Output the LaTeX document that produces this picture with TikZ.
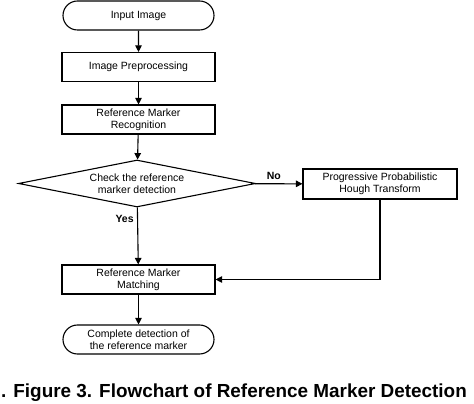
\documentclass[tikz,border=0pt]{standalone}
\usepackage{fontspec}
\setmainfont{Liberation Sans}
\usetikzlibrary{arrows.meta,shapes.geometric,shapes.misc}

\tikzset{
  terminal/.style={rounded rectangle,draw,line width=1.1pt,minimum width=153pt,minimum height=29pt,inner sep=1pt,align=center,font=\fontsize{10.5}{12}\selectfont},
  process/.style={rectangle,draw,line width=1.1pt,minimum width=153pt,minimum height=29pt,inner sep=1pt,align=center,font=\fontsize{10.5}{12}\selectfont},
  decision/.style={diamond,aspect=5,draw,line width=1.1pt,minimum width=237pt,minimum height=47pt,inner sep=0pt,align=center,font=\fontsize{10.5}{12}\selectfont}
}

\begin{document}
\begin{tikzpicture}[x=10pt,y=10pt]
\useasboundingbox (0,0) rectangle (47.4,40.4);
\begin{scope}
    \node[terminal] (start) at (13.85,38.85) {Input Image};
    \node[process] (prep) at (13.85,33.7) {Image Preprocessing};
    \node[process] (recog) at (13.85,28.45) {Reference Marker\\Recognition};
    \node[decision] (check) at (13.7,22.05) {Check the reference\\marker detection};
    \node[process,minimum width=154pt,minimum height=30pt] (hough) at (38.0,22.0) {Progressive Probabilistic\\Hough Transform};
    \node[process] (match) at (13.85,12.45) {Reference Marker\\Matching};
    \node[terminal] (done) at (13.85,6.45) {Complete detection of\\the reference marker};
\end{scope}
\begin{scope}[every edge/.style={draw=black,line width=1.1pt,-{Triangle[length=6.5pt,width=6.5pt]}}]
    \path (start) edge (prep);
    \path (prep) edge (recog);
    \path (recog) edge (check);
    \path (check) edge node[above,font=\bfseries\fontsize{10.5}{12}\selectfont,pos=0.4] {No} (hough);
    \path (check) edge node[left,font=\bfseries\fontsize{10.5}{12}\selectfont,pos=0.2] {Yes} (match);
    \path (hough.south) edge[to path={|- (\tikztotarget)}] (match.east);
    \path (match) edge (done);
\end{scope}
\node[anchor=base west,font=\bfseries\fontsize{18.9}{22}\selectfont,inner sep=0pt] (caption) at (0.1,0.6) {. Figure 3. Flowchart of Reference Marker Detection};
\end{tikzpicture}
\end{document}
